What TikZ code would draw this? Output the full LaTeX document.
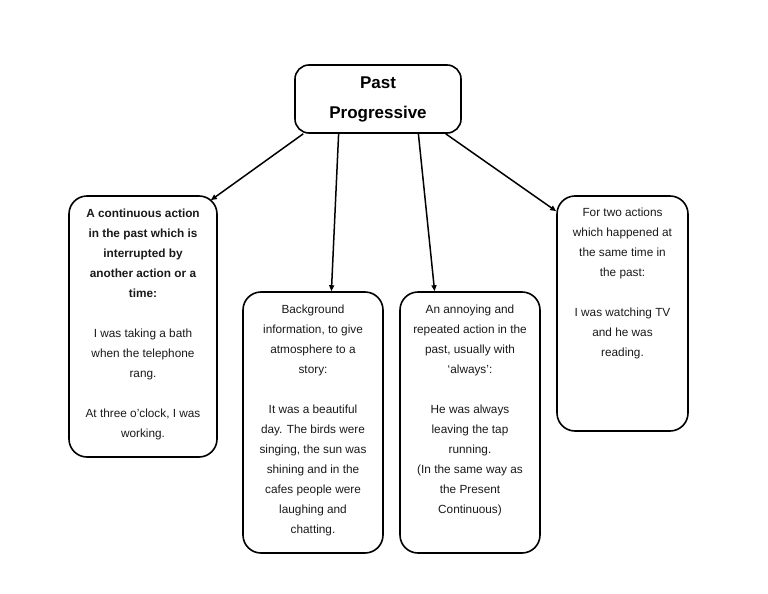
\documentclass[tikz,border=0pt]{standalone}
\usepackage{fontspec}
\setmainfont{Liberation Sans}
\usetikzlibrary{calc,arrows.meta}
\tikzset{
  box/.style={draw=black, line width=1.6pt, rounded corners=18pt, inner sep=0pt},
  topbox/.style={draw=black, line width=1.6pt, rounded corners=14pt, inner sep=0pt,
    minimum width=166pt, minimum height=68pt},
  txt/.style={inner sep=0pt, align=center, anchor=north, text=black!90,
    font=\fontsize{11.8pt}{20pt}\selectfont},
  ttl/.style={inner sep=0pt, align=center, text=black,
    font=\fontsize{17pt}{30pt}\selectfont\bfseries},
  conn/.style={line width=1.5pt, -{Triangle[length=6pt,width=5pt]}}
}
\begin{document}
\begin{tikzpicture}[x=1pt,y=-1pt]
\useasboundingbox (0,0) rectangle (768,594);
% boxes
\node[topbox] (top) at (378,99) {};
\node[ttl] (title) at (378,99) {Past\\Progressive};
\node[box, minimum width=148pt, minimum height=261pt] (b1) at (143,326.5) {};
\node[box, minimum width=140pt, minimum height=261pt] (b2) at (313,422.5) {};
\node[box, minimum width=140pt, minimum height=261pt] (b3) at (470,422.5) {};
\node[box, minimum width=131pt, minimum height=235pt] (b4) at (622.5,313.5) {};
% texts
\node[txt] (t1) at ($(b1.north)+(0,14)$) {\textbf{A continuous action}\\\textbf{in the past which is}\\\textbf{interrupted by}\\\textbf{another action or a}\\\textbf{time:}\\[20pt]I was taking a bath\\when the telephone\\rang.\\[20pt]At three o'clock, I was\\working.};
\node[txt] (t2) at ($(b2.north)+(0,14)$) {Background\\information, to give\\atmosphere to a\\story:\\[20pt]It was a beautiful\\day. The birds were\\singing, the sun was\\shining and in the\\cafes people were\\laughing and\\chatting.};
\node[txt] (t3) at ($(b3.north)+(0,14)$) {An annoying and\\repeated action in the\\past, usually with\\`always':\\[20pt]He was always\\leaving the tap\\running.\\(In the same way as\\the Present\\Continuous)};
\node[txt] (t4) at ($(b4.north)+(0,13)$) {For two actions\\which happened at\\the same time in\\the past:\\[20pt]I was watching TV\\and he was\\reading.};
% connectors
\draw[conn] ($(top.south west)!0.054!(top.south east)$) -- ($(b1.north east)+(-7,5)$);
\draw[conn] ($(top.south west)!0.265!(top.south east)$) -- ($(b2.north west)!0.63!(b2.north east)$);
\draw[conn] ($(top.south west)!0.741!(top.south east)$) -- ($(b3.north west)!0.25!(b3.north east)$);
\draw[conn] ($(top.south west)!0.904!(top.south east)$) -- ($(b4.north west)+(0,16)$);
\end{tikzpicture}
\end{document}
